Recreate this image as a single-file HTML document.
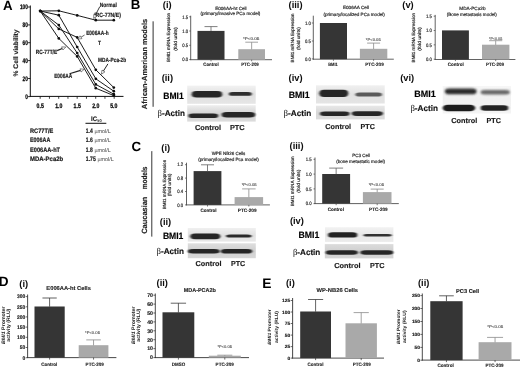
<!DOCTYPE html>
<html><head><meta charset="utf-8"><title>Figure</title>
<style>html,body{margin:0;padding:0;background:#fff}svg{display:block}text{text-rendering:geometricPrecision;font-family:'Liberation Sans', Arial, sans-serif}</style>
</head><body>
<svg width="520" height="368" viewBox="0 0 520 368">
<defs><filter id="b1" x="-10%" y="-50%" width="120%" height="200%"><feGaussianBlur stdDeviation="0.9 0.7"/></filter><filter id="b2" x="-10%" y="-50%" width="120%" height="200%"><feGaussianBlur stdDeviation="1.2 1.0"/></filter><filter id="soft"><feGaussianBlur stdDeviation="0.42"/></filter></defs>
<rect width="520" height="368" fill="#fff"/>
<g filter="url(#soft)">
<text x="2.90" y="10.10" font-size="13.3" font-weight="bold" textLength="9.60" lengthAdjust="spacingAndGlyphs" fill="#000">A</text>
<text x="130.70" y="8.90" font-size="13.3" font-weight="bold" textLength="9.60" lengthAdjust="spacingAndGlyphs" fill="#000">B</text>
<text x="131.50" y="150.90" font-size="13.3" font-weight="bold" textLength="9.60" lengthAdjust="spacingAndGlyphs" fill="#000">C</text>
<text x="-1.20" y="285.90" font-size="13.6" font-weight="bold" textLength="9.80" lengthAdjust="spacingAndGlyphs" fill="#000">D</text>
<text x="262.30" y="288.20" font-size="13.8" font-weight="bold" textLength="9.20" lengthAdjust="spacingAndGlyphs" fill="#000">E</text>
<line x1="30.30" y1="5.50" x2="30.30" y2="96.80" stroke="#111" stroke-width="1.0"/>
<line x1="29.90" y1="96.40" x2="123.50" y2="96.40" stroke="#111" stroke-width="1.0"/>
<line x1="28.10" y1="7.00" x2="30.30" y2="7.00" stroke="#111" stroke-width="0.9"/>
<text x="27.90" y="9.40" font-size="6.6" font-weight="bold" text-anchor="end" textLength="7.95" lengthAdjust="spacingAndGlyphs" stroke="#111" stroke-width="0.25">100</text>
<line x1="28.10" y1="24.90" x2="30.30" y2="24.90" stroke="#111" stroke-width="0.9"/>
<text x="27.90" y="27.30" font-size="6.6" font-weight="bold" text-anchor="end" textLength="5.30" lengthAdjust="spacingAndGlyphs" stroke="#111" stroke-width="0.25">80</text>
<line x1="28.10" y1="42.70" x2="30.30" y2="42.70" stroke="#111" stroke-width="0.9"/>
<text x="27.90" y="45.10" font-size="6.6" font-weight="bold" text-anchor="end" textLength="5.30" lengthAdjust="spacingAndGlyphs" stroke="#111" stroke-width="0.25">60</text>
<line x1="28.10" y1="60.60" x2="30.30" y2="60.60" stroke="#111" stroke-width="0.9"/>
<text x="27.90" y="63.00" font-size="6.6" font-weight="bold" text-anchor="end" textLength="5.30" lengthAdjust="spacingAndGlyphs" stroke="#111" stroke-width="0.25">40</text>
<line x1="28.10" y1="78.50" x2="30.30" y2="78.50" stroke="#111" stroke-width="0.9"/>
<text x="27.90" y="80.90" font-size="6.6" font-weight="bold" text-anchor="end" textLength="5.30" lengthAdjust="spacingAndGlyphs" stroke="#111" stroke-width="0.25">20</text>
<line x1="28.10" y1="96.60" x2="30.30" y2="96.60" stroke="#111" stroke-width="0.9"/>
<text x="27.90" y="99.00" font-size="6.6" font-weight="bold" text-anchor="end" textLength="2.65" lengthAdjust="spacingAndGlyphs" stroke="#111" stroke-width="0.25">0</text>
<line x1="40.20" y1="96.40" x2="40.20" y2="98.80" stroke="#111" stroke-width="0.8"/>
<line x1="49.45" y1="96.40" x2="49.45" y2="98.80" stroke="#111" stroke-width="0.8"/>
<line x1="58.70" y1="96.40" x2="58.70" y2="98.80" stroke="#111" stroke-width="0.8"/>
<line x1="67.95" y1="96.40" x2="67.95" y2="98.80" stroke="#111" stroke-width="0.8"/>
<line x1="77.20" y1="96.40" x2="77.20" y2="98.80" stroke="#111" stroke-width="0.8"/>
<line x1="86.45" y1="96.40" x2="86.45" y2="98.80" stroke="#111" stroke-width="0.8"/>
<line x1="95.70" y1="96.40" x2="95.70" y2="98.80" stroke="#111" stroke-width="0.8"/>
<line x1="104.95" y1="96.40" x2="104.95" y2="98.80" stroke="#111" stroke-width="0.8"/>
<line x1="114.20" y1="96.40" x2="114.20" y2="98.80" stroke="#111" stroke-width="0.8"/>
<text x="40.20" y="107.90" font-size="6.6" font-weight="bold" text-anchor="middle" textLength="7.20" lengthAdjust="spacingAndGlyphs" stroke="#111" stroke-width="0.25">0.5</text>
<text x="58.80" y="107.90" font-size="6.6" font-weight="bold" text-anchor="middle" textLength="7.20" lengthAdjust="spacingAndGlyphs" stroke="#111" stroke-width="0.25">1.0</text>
<text x="77.20" y="107.90" font-size="6.6" font-weight="bold" text-anchor="middle" textLength="7.20" lengthAdjust="spacingAndGlyphs" stroke="#111" stroke-width="0.25">1.5</text>
<text x="95.80" y="107.90" font-size="6.6" font-weight="bold" text-anchor="middle" textLength="7.20" lengthAdjust="spacingAndGlyphs" stroke="#111" stroke-width="0.25">2.0</text>
<text x="113.80" y="107.90" font-size="6.6" font-weight="bold" text-anchor="middle" textLength="7.20" lengthAdjust="spacingAndGlyphs" stroke="#111" stroke-width="0.25">5.0</text>
<text x="17.80" y="53.00" font-size="6.6" font-weight="bold" text-anchor="middle" textLength="47.00" lengthAdjust="spacingAndGlyphs" fill="#222" transform="rotate(-90 17.80 53.00)" stroke="#222" stroke-width="0.15">% Cell viability</text>
<polyline points="40.2,11.0 58.8,10.8 77.2,15.4 95.8,20.2 113.8,20.2" fill="none" stroke="#111" stroke-width="0.95"/>
<circle cx="40.2" cy="11.0" r="1.35" fill="#111"/>
<circle cx="58.8" cy="10.8" r="1.35" fill="#111"/>
<circle cx="77.2" cy="15.4" r="1.35" fill="#111"/>
<circle cx="95.8" cy="20.2" r="1.35" fill="#111"/>
<circle cx="113.8" cy="20.2" r="1.35" fill="#111"/>
<polyline points="40.2,11.0 58.8,28.9 77.2,37.4 95.8,69.8 113.8,87.6" fill="none" stroke="#111" stroke-width="0.95"/>
<circle cx="40.2" cy="11.0" r="1.35" fill="#111"/>
<circle cx="58.8" cy="28.9" r="1.35" fill="#111"/>
<circle cx="77.2" cy="37.4" r="1.35" fill="#111"/>
<circle cx="95.8" cy="69.8" r="1.35" fill="#111"/>
<circle cx="113.8" cy="87.6" r="1.35" fill="#111"/>
<polyline points="40.2,11.0 58.8,15.2 77.2,47.0 95.8,78.8 113.8,91.2" fill="none" stroke="#111" stroke-width="0.95"/>
<circle cx="40.2" cy="11.0" r="1.35" fill="#111"/>
<circle cx="58.8" cy="15.2" r="1.35" fill="#111"/>
<circle cx="77.2" cy="47.0" r="1.35" fill="#111"/>
<circle cx="95.8" cy="78.8" r="1.35" fill="#111"/>
<circle cx="113.8" cy="91.2" r="1.35" fill="#111"/>
<polyline points="40.2,11.0 58.8,25.1 77.2,53.0 95.8,84.4 113.8,94.2" fill="none" stroke="#111" stroke-width="0.95"/>
<circle cx="40.2" cy="11.0" r="1.35" fill="#111"/>
<circle cx="58.8" cy="25.1" r="1.35" fill="#111"/>
<circle cx="77.2" cy="53.0" r="1.35" fill="#111"/>
<circle cx="95.8" cy="84.4" r="1.35" fill="#111"/>
<circle cx="113.8" cy="94.2" r="1.35" fill="#111"/>
<polyline points="40.2,11.0 58.8,38.4 77.2,56.4 95.8,88.2 113.8,95.6" fill="none" stroke="#111" stroke-width="0.95"/>
<circle cx="40.2" cy="11.0" r="1.35" fill="#111"/>
<circle cx="58.8" cy="38.4" r="1.35" fill="#111"/>
<circle cx="77.2" cy="56.4" r="1.35" fill="#111"/>
<circle cx="95.8" cy="88.2" r="1.35" fill="#111"/>
<circle cx="113.8" cy="95.6" r="1.35" fill="#111"/>
<text x="99.80" y="6.90" font-size="6.2" font-weight="bold" textLength="17.00" lengthAdjust="spacingAndGlyphs" fill="#222" stroke="#222" stroke-width="0.2">Normal</text>
<text x="93.90" y="17.20" font-size="6.2" font-weight="bold" textLength="27.00" lengthAdjust="spacingAndGlyphs" fill="#222" stroke="#222" stroke-width="0.2">(RC-77N/E)</text>
<text x="86.20" y="34.60" font-size="6.2" font-weight="bold" textLength="22.50" lengthAdjust="spacingAndGlyphs" fill="#222" stroke="#222" stroke-width="0.2">E006AA-h</text>
<text x="98.00" y="44.60" font-size="6.2" font-weight="bold" textLength="3.00" lengthAdjust="spacingAndGlyphs" fill="#222" stroke="#222" stroke-width="0.2">T</text>
<text x="35.80" y="53.60" font-size="6.2" font-weight="bold" textLength="21.30" lengthAdjust="spacingAndGlyphs" fill="#222" stroke="#222" stroke-width="0.2">RC-77T/E</text>
<text x="98.10" y="62.30" font-size="6.2" font-weight="bold" textLength="28.10" lengthAdjust="spacingAndGlyphs" fill="#222" stroke="#222" stroke-width="0.2">MDA-Pca-2b</text>
<text x="54.20" y="78.10" font-size="6.2" font-weight="bold" textLength="18.00" lengthAdjust="spacingAndGlyphs" fill="#222" stroke="#222" stroke-width="0.2">E006AA</text>
<line x1="99.80" y1="6.60" x2="95.36" y2="15.13" stroke="#222" stroke-width="0.9"/>
<polygon points="93.6,18.5 93.8,14.3 96.9,15.9" fill="#fff" stroke="#222" stroke-width="0.55"/>
<line x1="84.60" y1="35.00" x2="81.03" y2="37.20" stroke="#222" stroke-width="0.7"/>
<polygon points="77.8,39.2 80.1,35.8 81.9,38.6" fill="#fff" stroke="#222" stroke-width="0.55"/>
<line x1="57.10" y1="50.60" x2="62.29" y2="48.45" stroke="#222" stroke-width="1.2"/>
<polygon points="65.8,47.0 62.9,50.0 61.6,46.9" fill="#fff" stroke="#222" stroke-width="0.55"/>
<line x1="107.90" y1="63.90" x2="103.43" y2="70.99" stroke="#222" stroke-width="1.0"/>
<polygon points="101.4,74.2 102.0,70.1 104.9,71.9" fill="#fff" stroke="#222" stroke-width="0.55"/>
<line x1="69.50" y1="73.80" x2="80.57" y2="70.41" stroke="#222" stroke-width="1.2"/>
<polygon points="84.2,69.3 81.1,72.0 80.1,68.8" fill="#fff" stroke="#222" stroke-width="0.55"/>
<text x="91.00" y="120.50" font-size="6.4" font-weight="bold" textLength="6.00" lengthAdjust="spacingAndGlyphs" fill="#222" stroke="#222" stroke-width="0.2">IC</text>
<text x="97.30" y="122.20" font-size="4.2" font-weight="bold" textLength="4.40" lengthAdjust="spacingAndGlyphs" fill="#222">50</text>
<line x1="85.50" y1="123.30" x2="106.30" y2="123.30" stroke="#111" stroke-width="1.0"/>
<text x="30.00" y="133.10" font-size="6.4" font-weight="bold" textLength="23.30" lengthAdjust="spacingAndGlyphs" fill="#222" stroke="#222" stroke-width="0.2">RC77T/E</text>
<text x="85.80" y="133.10" font-size="6.4" font-weight="bold" textLength="7.00" lengthAdjust="spacingAndGlyphs" fill="#222" stroke="#222" stroke-width="0.2">1.4</text>
<text x="94.40" y="133.00" font-size="5.4" textLength="16.50" lengthAdjust="spacingAndGlyphs" fill="#444">µmol/L</text>
<text x="30.00" y="142.30" font-size="6.4" font-weight="bold" textLength="20.30" lengthAdjust="spacingAndGlyphs" fill="#222" stroke="#222" stroke-width="0.2">E006AA</text>
<text x="85.80" y="142.30" font-size="6.4" font-weight="bold" textLength="7.00" lengthAdjust="spacingAndGlyphs" fill="#222" stroke="#222" stroke-width="0.2">1.6</text>
<text x="94.40" y="142.20" font-size="5.4" textLength="16.50" lengthAdjust="spacingAndGlyphs" fill="#444">µmol/L</text>
<text x="30.00" y="151.60" font-size="6.4" font-weight="bold" textLength="30.00" lengthAdjust="spacingAndGlyphs" fill="#222" stroke="#222" stroke-width="0.2">E006AA-hT</text>
<text x="85.80" y="151.60" font-size="6.4" font-weight="bold" textLength="7.00" lengthAdjust="spacingAndGlyphs" fill="#222" stroke="#222" stroke-width="0.2">1.8</text>
<text x="94.40" y="151.50" font-size="5.4" textLength="16.50" lengthAdjust="spacingAndGlyphs" fill="#444">µmol/L</text>
<text x="30.00" y="160.60" font-size="6.4" font-weight="bold" textLength="33.20" lengthAdjust="spacingAndGlyphs" fill="#222" stroke="#222" stroke-width="0.2">MDA-Pca2b</text>
<text x="85.80" y="160.60" font-size="6.4" font-weight="bold" textLength="10.00" lengthAdjust="spacingAndGlyphs" fill="#222" stroke="#222" stroke-width="0.2">1.75</text>
<text x="97.40" y="160.50" font-size="5.4" textLength="16.50" lengthAdjust="spacingAndGlyphs" fill="#444">µmol/L</text>
<line x1="153.10" y1="21.30" x2="153.10" y2="106.80" stroke="#1a1a1a" stroke-width="0.9"/>
<text x="147.00" y="64.00" font-size="7.4" font-weight="bold" text-anchor="middle" textLength="90.40" lengthAdjust="spacingAndGlyphs" fill="#222" transform="rotate(-90 147.00 64.00)" stroke="#222" stroke-width="0.15">African-American models</text>
<line x1="151.80" y1="151.20" x2="151.80" y2="236.60" stroke="#1a1a1a" stroke-width="0.9"/>
<text x="147.10" y="215.20" font-size="7.6" font-weight="bold" text-anchor="middle" textLength="37.20" lengthAdjust="spacingAndGlyphs" fill="#222" transform="rotate(-90 147.10 215.20)" stroke="#222" stroke-width="0.15">Caucasian</text>
<text x="147.10" y="178.00" font-size="7.6" font-weight="bold" text-anchor="middle" textLength="22.60" lengthAdjust="spacingAndGlyphs" fill="#222" transform="rotate(-90 147.10 178.00)" stroke="#222" stroke-width="0.15">models</text>
<text x="162.80" y="8.40" font-size="9.3" font-weight="bold" textLength="8.78" lengthAdjust="spacingAndGlyphs" fill="#0a0a0a">(i)</text>
<text x="161.70" y="81.20" font-size="9.3" font-weight="bold" textLength="11.36" lengthAdjust="spacingAndGlyphs" fill="#0a0a0a">(ii)</text>
<text x="288.60" y="8.10" font-size="9.3" font-weight="bold" textLength="13.95" lengthAdjust="spacingAndGlyphs" fill="#0a0a0a">(iii)</text>
<text x="288.60" y="81.00" font-size="9.3" font-weight="bold" textLength="13.95" lengthAdjust="spacingAndGlyphs" fill="#0a0a0a">(iv)</text>
<text x="402.30" y="8.00" font-size="9.3" font-weight="bold" textLength="11.36" lengthAdjust="spacingAndGlyphs" fill="#0a0a0a">(v)</text>
<text x="400.20" y="81.10" font-size="9.3" font-weight="bold" textLength="13.95" lengthAdjust="spacingAndGlyphs" fill="#0a0a0a">(vi)</text>
<text x="161.30" y="150.50" font-size="9.3" font-weight="bold" textLength="8.78" lengthAdjust="spacingAndGlyphs" fill="#0a0a0a">(i)</text>
<text x="159.80" y="225.00" font-size="9.3" font-weight="bold" textLength="11.36" lengthAdjust="spacingAndGlyphs" fill="#0a0a0a">(ii)</text>
<text x="289.60" y="149.30" font-size="9.3" font-weight="bold" textLength="13.95" lengthAdjust="spacingAndGlyphs" fill="#0a0a0a">(iii)</text>
<text x="289.90" y="223.50" font-size="9.3" font-weight="bold" textLength="13.95" lengthAdjust="spacingAndGlyphs" fill="#0a0a0a">(iv)</text>
<text x="19.30" y="286.50" font-size="9.3" font-weight="bold" textLength="8.78" lengthAdjust="spacingAndGlyphs" fill="#0a0a0a">(i)</text>
<text x="156.60" y="286.30" font-size="9.3" font-weight="bold" textLength="11.36" lengthAdjust="spacingAndGlyphs" fill="#0a0a0a">(ii)</text>
<text x="286.00" y="286.30" font-size="9.3" font-weight="bold" textLength="8.78" lengthAdjust="spacingAndGlyphs" fill="#0a0a0a">(i)</text>
<text x="418.00" y="286.30" font-size="9.3" font-weight="bold" textLength="11.36" lengthAdjust="spacingAndGlyphs" fill="#0a0a0a">(ii)</text>
<line x1="190.70" y1="15.70" x2="190.70" y2="60.10" stroke="#444" stroke-width="0.85"/>
<line x1="190.30" y1="59.70" x2="272.00" y2="59.70" stroke="#444" stroke-width="0.85"/>
<line x1="189.20" y1="16.80" x2="190.70" y2="16.80" stroke="#444" stroke-width="0.7"/>
<text x="188.20" y="18.56" font-size="4.9" text-anchor="end" textLength="5.90" lengthAdjust="spacingAndGlyphs" fill="#222" stroke="#2a2a2a" stroke-width="0.18">1.5</text>
<line x1="189.20" y1="31.00" x2="190.70" y2="31.00" stroke="#444" stroke-width="0.7"/>
<text x="188.20" y="32.76" font-size="4.9" text-anchor="end" textLength="5.90" lengthAdjust="spacingAndGlyphs" fill="#222" stroke="#2a2a2a" stroke-width="0.18">1.0</text>
<line x1="189.20" y1="45.30" x2="190.70" y2="45.30" stroke="#444" stroke-width="0.7"/>
<text x="188.20" y="47.06" font-size="4.9" text-anchor="end" textLength="5.90" lengthAdjust="spacingAndGlyphs" fill="#222" stroke="#2a2a2a" stroke-width="0.18">0.5</text>
<line x1="189.20" y1="59.60" x2="190.70" y2="59.60" stroke="#444" stroke-width="0.7"/>
<text x="188.20" y="61.36" font-size="4.9" text-anchor="end" textLength="5.90" lengthAdjust="spacingAndGlyphs" fill="#222" stroke="#2a2a2a" stroke-width="0.18">0.0</text>
<rect x="197.50" y="30.90" width="27.00" height="28.80" fill="#353535"/>
<line x1="211.00" y1="59.70" x2="211.00" y2="61.30" stroke="#444" stroke-width="0.7"/>
<line x1="211.00" y1="26.60" x2="211.00" y2="31.10" stroke="#606060" stroke-width="0.8"/>
<line x1="204.50" y1="26.60" x2="217.50" y2="26.60" stroke="#606060" stroke-width="0.8"/>
<rect x="238.30" y="49.20" width="26.70" height="10.50" fill="#a9a9a9"/>
<line x1="251.65" y1="59.70" x2="251.65" y2="61.30" stroke="#444" stroke-width="0.7"/>
<line x1="251.65" y1="42.20" x2="251.65" y2="49.40" stroke="#8a8a8a" stroke-width="0.8"/>
<line x1="245.30" y1="42.20" x2="258.00" y2="42.20" stroke="#8a8a8a" stroke-width="0.8"/>
<text x="211.00" y="65.90" font-size="4.8" font-weight="bold" text-anchor="middle" textLength="15.50" lengthAdjust="spacingAndGlyphs" fill="#1a1a1a" stroke="#1a1a1a" stroke-width="0.1">Control</text>
<text x="250.00" y="65.90" font-size="4.8" font-weight="bold" text-anchor="middle" textLength="17.70" lengthAdjust="spacingAndGlyphs" fill="#1a1a1a" stroke="#1a1a1a" stroke-width="0.1">PTC-209</text>
<text x="230.90" y="9.70" font-size="4.6" text-anchor="middle" textLength="31.50" lengthAdjust="spacingAndGlyphs" fill="#262626" stroke="#2a2a2a" stroke-width="0.18">E006AA-ht Cell</text>
<text x="230.40" y="15.10" font-size="4.6" text-anchor="middle" textLength="60.00" lengthAdjust="spacingAndGlyphs" fill="#262626" stroke="#2a2a2a" stroke-width="0.18">(primary/invasive PCa model)</text>
<text x="170.10" y="37.50" font-size="4.5" text-anchor="middle" fill="#262626" transform="rotate(-90 170.10 37.50)" textLength="49.00" lengthAdjust="spacingAndGlyphs" stroke="#2a2a2a" stroke-width="0.18">BMI1 mRNA Expression</text>
<text x="176.60" y="39.00" font-size="4.5" text-anchor="middle" fill="#262626" transform="rotate(-90 176.60 39.00)" textLength="23.50" lengthAdjust="spacingAndGlyphs" stroke="#2a2a2a" stroke-width="0.18">(fold units)</text>
<text x="251.20" y="39.60" font-size="3.9" text-anchor="middle" textLength="16.40" lengthAdjust="spacingAndGlyphs" fill="#383838" stroke="#383838" stroke-width="0.08">*P&lt;0.05</text>
<line x1="313.30" y1="15.70" x2="313.30" y2="59.60" stroke="#444" stroke-width="0.85"/>
<line x1="312.90" y1="59.20" x2="393.80" y2="59.20" stroke="#444" stroke-width="0.85"/>
<line x1="311.80" y1="23.00" x2="313.30" y2="23.00" stroke="#444" stroke-width="0.7"/>
<text x="310.80" y="24.76" font-size="4.9" text-anchor="end" textLength="5.90" lengthAdjust="spacingAndGlyphs" fill="#222" stroke="#2a2a2a" stroke-width="0.18">1.0</text>
<line x1="311.80" y1="41.00" x2="313.30" y2="41.00" stroke="#444" stroke-width="0.7"/>
<text x="310.80" y="42.76" font-size="4.9" text-anchor="end" textLength="5.90" lengthAdjust="spacingAndGlyphs" fill="#222" stroke="#2a2a2a" stroke-width="0.18">0.5</text>
<line x1="311.80" y1="58.90" x2="313.30" y2="58.90" stroke="#444" stroke-width="0.7"/>
<text x="310.80" y="60.66" font-size="4.9" text-anchor="end" textLength="5.90" lengthAdjust="spacingAndGlyphs" fill="#222" stroke="#2a2a2a" stroke-width="0.18">0.0</text>
<rect x="319.90" y="23.00" width="27.10" height="36.20" fill="#353535"/>
<line x1="333.45" y1="59.20" x2="333.45" y2="60.80" stroke="#444" stroke-width="0.7"/>
<rect x="359.90" y="48.80" width="27.40" height="10.40" fill="#a9a9a9"/>
<line x1="373.60" y1="59.20" x2="373.60" y2="60.80" stroke="#444" stroke-width="0.7"/>
<line x1="373.60" y1="43.10" x2="373.60" y2="49.00" stroke="#8a8a8a" stroke-width="0.8"/>
<line x1="367.10" y1="43.10" x2="380.10" y2="43.10" stroke="#8a8a8a" stroke-width="0.8"/>
<text x="333.00" y="65.80" font-size="4.8" font-weight="bold" text-anchor="middle" textLength="9.60" lengthAdjust="spacingAndGlyphs" fill="#1a1a1a" stroke="#1a1a1a" stroke-width="0.1">BMI1</text>
<text x="374.50" y="65.80" font-size="4.8" font-weight="bold" text-anchor="middle" textLength="18.40" lengthAdjust="spacingAndGlyphs" fill="#1a1a1a" stroke="#1a1a1a" stroke-width="0.1">PTC-209</text>
<text x="355.90" y="9.40" font-size="4.6" text-anchor="middle" textLength="26.00" lengthAdjust="spacingAndGlyphs" fill="#262626" stroke="#2a2a2a" stroke-width="0.18">E006AA Cell</text>
<text x="354.10" y="15.60" font-size="4.6" text-anchor="middle" textLength="61.40" lengthAdjust="spacingAndGlyphs" fill="#262626" stroke="#2a2a2a" stroke-width="0.18">(primary/localized PCa model)</text>
<text x="293.90" y="37.90" font-size="4.5" text-anchor="middle" fill="#262626" transform="rotate(-90 293.90 37.90)" textLength="49.00" lengthAdjust="spacingAndGlyphs" stroke="#2a2a2a" stroke-width="0.18">BMI1 mRNA Expression</text>
<text x="300.10" y="38.60" font-size="4.5" text-anchor="middle" fill="#262626" transform="rotate(-90 300.10 38.60)" textLength="23.00" lengthAdjust="spacingAndGlyphs" stroke="#2a2a2a" stroke-width="0.18">(fold units)</text>
<text x="373.30" y="40.90" font-size="3.9" text-anchor="middle" textLength="14.90" lengthAdjust="spacingAndGlyphs" fill="#383838" stroke="#383838" stroke-width="0.08">*P&lt;0.05</text>
<line x1="435.20" y1="14.90" x2="435.20" y2="59.90" stroke="#444" stroke-width="0.85"/>
<line x1="434.80" y1="59.50" x2="515.40" y2="59.50" stroke="#444" stroke-width="0.85"/>
<line x1="433.70" y1="16.20" x2="435.20" y2="16.20" stroke="#444" stroke-width="0.7"/>
<text x="431.90" y="17.96" font-size="4.9" text-anchor="end" textLength="5.90" lengthAdjust="spacingAndGlyphs" fill="#222" stroke="#2a2a2a" stroke-width="0.18">1.5</text>
<line x1="433.70" y1="30.50" x2="435.20" y2="30.50" stroke="#444" stroke-width="0.7"/>
<text x="431.90" y="32.26" font-size="4.9" text-anchor="end" textLength="5.90" lengthAdjust="spacingAndGlyphs" fill="#222" stroke="#2a2a2a" stroke-width="0.18">1.0</text>
<line x1="433.70" y1="44.85" x2="435.20" y2="44.85" stroke="#444" stroke-width="0.7"/>
<text x="431.90" y="46.61" font-size="4.9" text-anchor="end" textLength="5.90" lengthAdjust="spacingAndGlyphs" fill="#222" stroke="#2a2a2a" stroke-width="0.18">0.5</text>
<line x1="433.70" y1="59.20" x2="435.20" y2="59.20" stroke="#444" stroke-width="0.7"/>
<text x="431.90" y="60.96" font-size="4.9" text-anchor="end" textLength="5.90" lengthAdjust="spacingAndGlyphs" fill="#222" stroke="#2a2a2a" stroke-width="0.18">0.0</text>
<rect x="442.00" y="30.40" width="26.90" height="29.10" fill="#353535"/>
<line x1="455.45" y1="59.50" x2="455.45" y2="61.10" stroke="#444" stroke-width="0.7"/>
<rect x="482.00" y="44.70" width="27.40" height="14.80" fill="#a9a9a9"/>
<line x1="495.70" y1="59.50" x2="495.70" y2="61.10" stroke="#444" stroke-width="0.7"/>
<line x1="495.70" y1="40.70" x2="495.70" y2="44.90" stroke="#8a8a8a" stroke-width="0.8"/>
<line x1="489.15" y1="40.70" x2="502.25" y2="40.70" stroke="#8a8a8a" stroke-width="0.8"/>
<text x="455.70" y="66.30" font-size="4.8" font-weight="bold" text-anchor="middle" textLength="16.00" lengthAdjust="spacingAndGlyphs" fill="#1a1a1a" stroke="#1a1a1a" stroke-width="0.1">Control</text>
<text x="495.00" y="66.30" font-size="4.8" font-weight="bold" text-anchor="middle" textLength="18.00" lengthAdjust="spacingAndGlyphs" fill="#1a1a1a" stroke="#1a1a1a" stroke-width="0.1">PTC-209</text>
<text x="472.40" y="9.70" font-size="4.6" text-anchor="middle" textLength="26.30" lengthAdjust="spacingAndGlyphs" fill="#262626" stroke="#2a2a2a" stroke-width="0.18">MDA-PCa2b</text>
<text x="471.70" y="15.90" font-size="4.6" text-anchor="middle" textLength="50.00" lengthAdjust="spacingAndGlyphs" fill="#262626" stroke="#2a2a2a" stroke-width="0.18">(Bone metastasis model)</text>
<text x="415.50" y="37.70" font-size="4.5" text-anchor="middle" fill="#262626" transform="rotate(-90 415.50 37.70)" textLength="49.50" lengthAdjust="spacingAndGlyphs" stroke="#2a2a2a" stroke-width="0.18">BMI1 mRNA Expression</text>
<text x="421.30" y="39.00" font-size="4.5" text-anchor="middle" fill="#262626" transform="rotate(-90 421.30 39.00)" textLength="23.50" lengthAdjust="spacingAndGlyphs" stroke="#2a2a2a" stroke-width="0.18">(fold units)</text>
<text x="495.60" y="39.50" font-size="3.9" text-anchor="middle" textLength="13.20" lengthAdjust="spacingAndGlyphs" fill="#383838" stroke="#383838" stroke-width="0.08">*P&lt;0.05</text>
<line x1="186.50" y1="162.70" x2="186.50" y2="205.30" stroke="#444" stroke-width="0.85"/>
<line x1="186.10" y1="204.90" x2="269.90" y2="204.90" stroke="#444" stroke-width="0.85"/>
<line x1="185.00" y1="164.70" x2="186.50" y2="164.70" stroke="#444" stroke-width="0.7"/>
<text x="183.10" y="166.46" font-size="4.9" text-anchor="end" textLength="5.90" lengthAdjust="spacingAndGlyphs" fill="#222" stroke="#2a2a2a" stroke-width="0.18">1.2</text>
<line x1="185.00" y1="178.10" x2="186.50" y2="178.10" stroke="#444" stroke-width="0.7"/>
<text x="183.10" y="179.86" font-size="4.9" text-anchor="end" textLength="5.90" lengthAdjust="spacingAndGlyphs" fill="#222" stroke="#2a2a2a" stroke-width="0.18">0.8</text>
<line x1="185.00" y1="191.50" x2="186.50" y2="191.50" stroke="#444" stroke-width="0.7"/>
<text x="183.10" y="193.26" font-size="4.9" text-anchor="end" textLength="5.90" lengthAdjust="spacingAndGlyphs" fill="#222" stroke="#2a2a2a" stroke-width="0.18">0.4</text>
<line x1="185.00" y1="204.90" x2="186.50" y2="204.90" stroke="#444" stroke-width="0.7"/>
<text x="183.10" y="206.66" font-size="4.9" text-anchor="end" textLength="5.90" lengthAdjust="spacingAndGlyphs" fill="#222" stroke="#2a2a2a" stroke-width="0.18">0.0</text>
<rect x="193.60" y="171.10" width="27.80" height="33.80" fill="#353535"/>
<line x1="207.50" y1="204.90" x2="207.50" y2="206.50" stroke="#444" stroke-width="0.7"/>
<line x1="207.50" y1="164.80" x2="207.50" y2="171.30" stroke="#606060" stroke-width="0.8"/>
<line x1="201.00" y1="164.80" x2="214.00" y2="164.80" stroke="#606060" stroke-width="0.8"/>
<rect x="234.60" y="197.10" width="28.50" height="7.80" fill="#a9a9a9"/>
<line x1="248.85" y1="204.90" x2="248.85" y2="206.50" stroke="#444" stroke-width="0.7"/>
<line x1="248.85" y1="188.90" x2="248.85" y2="197.30" stroke="#8a8a8a" stroke-width="0.8"/>
<line x1="242.10" y1="188.90" x2="255.60" y2="188.90" stroke="#8a8a8a" stroke-width="0.8"/>
<text x="208.50" y="211.50" font-size="4.8" font-weight="bold" text-anchor="middle" textLength="16.00" lengthAdjust="spacingAndGlyphs" fill="#1a1a1a" stroke="#1a1a1a" stroke-width="0.1">Control</text>
<text x="247.20" y="211.50" font-size="4.8" font-weight="bold" text-anchor="middle" textLength="18.80" lengthAdjust="spacingAndGlyphs" fill="#1a1a1a" stroke="#1a1a1a" stroke-width="0.1">PTC-209</text>
<text x="228.50" y="154.90" font-size="4.6" text-anchor="middle" textLength="33.70" lengthAdjust="spacingAndGlyphs" fill="#262626" stroke="#2a2a2a" stroke-width="0.18">WPE NB26 Cells</text>
<text x="228.50" y="161.30" font-size="4.6" text-anchor="middle" textLength="60.50" lengthAdjust="spacingAndGlyphs" fill="#262626" stroke="#2a2a2a" stroke-width="0.18">(primary/localized Pca model)</text>
<text x="165.60" y="184.50" font-size="4.5" text-anchor="middle" fill="#262626" transform="rotate(-90 165.60 184.50)" textLength="49.50" lengthAdjust="spacingAndGlyphs" stroke="#2a2a2a" stroke-width="0.18">BMI1 mRNA Expression</text>
<text x="171.10" y="184.90" font-size="4.5" text-anchor="middle" fill="#262626" transform="rotate(-90 171.10 184.90)" textLength="22.80" lengthAdjust="spacingAndGlyphs" stroke="#2a2a2a" stroke-width="0.18">(fold units)</text>
<text x="249.20" y="185.90" font-size="3.9" text-anchor="middle" textLength="15.00" lengthAdjust="spacingAndGlyphs" fill="#383838" stroke="#383838" stroke-width="0.08">*P&lt;0.05</text>
<line x1="315.00" y1="157.50" x2="315.00" y2="204.00" stroke="#444" stroke-width="0.85"/>
<line x1="314.60" y1="203.60" x2="398.80" y2="203.60" stroke="#444" stroke-width="0.85"/>
<line x1="313.50" y1="159.30" x2="315.00" y2="159.30" stroke="#444" stroke-width="0.7"/>
<text x="311.60" y="161.06" font-size="4.9" text-anchor="end" textLength="5.90" lengthAdjust="spacingAndGlyphs" fill="#222" stroke="#2a2a2a" stroke-width="0.18">1.5</text>
<line x1="313.50" y1="174.10" x2="315.00" y2="174.10" stroke="#444" stroke-width="0.7"/>
<text x="311.60" y="175.86" font-size="4.9" text-anchor="end" textLength="5.90" lengthAdjust="spacingAndGlyphs" fill="#222" stroke="#2a2a2a" stroke-width="0.18">1.0</text>
<line x1="313.50" y1="188.90" x2="315.00" y2="188.90" stroke="#444" stroke-width="0.7"/>
<text x="311.60" y="190.66" font-size="4.9" text-anchor="end" textLength="5.90" lengthAdjust="spacingAndGlyphs" fill="#222" stroke="#2a2a2a" stroke-width="0.18">0.5</text>
<line x1="313.50" y1="203.60" x2="315.00" y2="203.60" stroke="#444" stroke-width="0.7"/>
<text x="311.60" y="205.36" font-size="4.9" text-anchor="end" textLength="5.90" lengthAdjust="spacingAndGlyphs" fill="#222" stroke="#2a2a2a" stroke-width="0.18">0.0</text>
<rect x="322.20" y="174.00" width="27.90" height="29.60" fill="#353535"/>
<line x1="336.15" y1="203.60" x2="336.15" y2="205.20" stroke="#444" stroke-width="0.7"/>
<line x1="336.15" y1="168.10" x2="336.15" y2="174.20" stroke="#606060" stroke-width="0.8"/>
<line x1="329.20" y1="168.10" x2="343.10" y2="168.10" stroke="#606060" stroke-width="0.8"/>
<rect x="362.90" y="192.10" width="28.60" height="11.50" fill="#a9a9a9"/>
<line x1="377.20" y1="203.60" x2="377.20" y2="205.20" stroke="#444" stroke-width="0.7"/>
<line x1="377.20" y1="189.10" x2="377.20" y2="192.30" stroke="#8a8a8a" stroke-width="0.8"/>
<line x1="370.70" y1="189.10" x2="383.70" y2="189.10" stroke="#8a8a8a" stroke-width="0.8"/>
<text x="335.80" y="210.80" font-size="4.8" font-weight="bold" text-anchor="middle" textLength="16.30" lengthAdjust="spacingAndGlyphs" fill="#1a1a1a" stroke="#1a1a1a" stroke-width="0.1">Control</text>
<text x="378.40" y="210.80" font-size="4.8" font-weight="bold" text-anchor="middle" textLength="18.60" lengthAdjust="spacingAndGlyphs" fill="#1a1a1a" stroke="#1a1a1a" stroke-width="0.1">PTC-209</text>
<text x="361.10" y="157.20" font-size="4.6" text-anchor="middle" textLength="17.50" lengthAdjust="spacingAndGlyphs" fill="#262626" stroke="#2a2a2a" stroke-width="0.18">PC3 Cell</text>
<text x="360.60" y="162.90" font-size="4.6" text-anchor="middle" textLength="48.80" lengthAdjust="spacingAndGlyphs" fill="#262626" stroke="#2a2a2a" stroke-width="0.18">(bone metastatic model)</text>
<text x="293.60" y="181.30" font-size="4.5" text-anchor="middle" fill="#262626" transform="rotate(-90 293.60 181.30)" textLength="50.00" lengthAdjust="spacingAndGlyphs" stroke="#2a2a2a" stroke-width="0.18">BMI1 mRNA Expression</text>
<text x="300.10" y="181.20" font-size="4.5" text-anchor="middle" fill="#262626" transform="rotate(-90 300.10 181.20)" textLength="23.00" lengthAdjust="spacingAndGlyphs" stroke="#2a2a2a" stroke-width="0.18">(fold units)</text>
<text x="376.40" y="186.30" font-size="3.9" text-anchor="middle" textLength="15.50" lengthAdjust="spacingAndGlyphs" fill="#383838" stroke="#383838" stroke-width="0.08">*P&lt;0.05</text>
<line x1="27.60" y1="294.50" x2="27.60" y2="358.00" stroke="#2a2a2a" stroke-width="0.85"/>
<line x1="27.20" y1="357.60" x2="116.40" y2="357.60" stroke="#2a2a2a" stroke-width="0.85"/>
<line x1="25.70" y1="296.60" x2="27.60" y2="296.60" stroke="#2a2a2a" stroke-width="0.7"/>
<text x="25.20" y="298.47" font-size="5.2" font-weight="bold" text-anchor="end" textLength="8.27" lengthAdjust="spacingAndGlyphs" fill="#1a1a1a" stroke="#1a1a1a" stroke-width="0.15">300</text>
<line x1="25.70" y1="306.80" x2="27.60" y2="306.80" stroke="#2a2a2a" stroke-width="0.7"/>
<text x="25.20" y="308.67" font-size="5.2" font-weight="bold" text-anchor="end" textLength="8.27" lengthAdjust="spacingAndGlyphs" fill="#1a1a1a" stroke="#1a1a1a" stroke-width="0.15">250</text>
<line x1="25.70" y1="316.90" x2="27.60" y2="316.90" stroke="#2a2a2a" stroke-width="0.7"/>
<text x="25.20" y="318.77" font-size="5.2" font-weight="bold" text-anchor="end" textLength="8.27" lengthAdjust="spacingAndGlyphs" fill="#1a1a1a" stroke="#1a1a1a" stroke-width="0.15">200</text>
<line x1="25.70" y1="327.10" x2="27.60" y2="327.10" stroke="#2a2a2a" stroke-width="0.7"/>
<text x="25.20" y="328.97" font-size="5.2" font-weight="bold" text-anchor="end" textLength="8.27" lengthAdjust="spacingAndGlyphs" fill="#1a1a1a" stroke="#1a1a1a" stroke-width="0.15">150</text>
<line x1="25.70" y1="337.30" x2="27.60" y2="337.30" stroke="#2a2a2a" stroke-width="0.7"/>
<text x="25.20" y="339.17" font-size="5.2" font-weight="bold" text-anchor="end" textLength="8.27" lengthAdjust="spacingAndGlyphs" fill="#1a1a1a" stroke="#1a1a1a" stroke-width="0.15">100</text>
<line x1="25.70" y1="347.50" x2="27.60" y2="347.50" stroke="#2a2a2a" stroke-width="0.7"/>
<text x="25.20" y="349.37" font-size="5.2" font-weight="bold" text-anchor="end" textLength="5.51" lengthAdjust="spacingAndGlyphs" fill="#1a1a1a" stroke="#1a1a1a" stroke-width="0.15">50</text>
<line x1="25.70" y1="357.70" x2="27.60" y2="357.70" stroke="#2a2a2a" stroke-width="0.7"/>
<text x="25.20" y="359.57" font-size="5.2" font-weight="bold" text-anchor="end" textLength="2.76" lengthAdjust="spacingAndGlyphs" fill="#1a1a1a" stroke="#1a1a1a" stroke-width="0.15">0</text>
<rect x="34.50" y="306.50" width="30.20" height="51.10" fill="#353535"/>
<line x1="49.60" y1="357.60" x2="49.60" y2="359.60" stroke="#2a2a2a" stroke-width="0.7"/>
<line x1="49.60" y1="298.00" x2="49.60" y2="306.70" stroke="#3a3a3a" stroke-width="0.8"/>
<line x1="42.45" y1="298.00" x2="56.75" y2="298.00" stroke="#3a3a3a" stroke-width="0.8"/>
<rect x="78.70" y="345.20" width="29.70" height="12.40" fill="#a9a9a9"/>
<line x1="93.55" y1="357.60" x2="93.55" y2="359.60" stroke="#2a2a2a" stroke-width="0.7"/>
<line x1="93.55" y1="339.90" x2="93.55" y2="345.40" stroke="#8a8a8a" stroke-width="0.8"/>
<line x1="86.25" y1="339.90" x2="100.85" y2="339.90" stroke="#8a8a8a" stroke-width="0.8"/>
<text x="49.30" y="365.80" font-size="4.8" font-weight="bold" text-anchor="middle" textLength="16.20" lengthAdjust="spacingAndGlyphs" fill="#1a1a1a" stroke="#1a1a1a" stroke-width="0.1">Control</text>
<text x="94.70" y="365.80" font-size="4.8" font-weight="bold" text-anchor="middle" textLength="18.20" lengthAdjust="spacingAndGlyphs" fill="#1a1a1a" stroke="#1a1a1a" stroke-width="0.1">PTC-209</text>
<text x="68.60" y="290.30" font-size="5.6" font-weight="bold" text-anchor="middle" textLength="44.50" lengthAdjust="spacingAndGlyphs" fill="#1a1a1a" stroke="#1a1a1a" stroke-width="0.12">E006AA-ht Cells</text>
<text x="4.60" y="325.20" font-size="5" text-anchor="middle" fill="#222" transform="rotate(-90 4.60 325.20)" textLength="37.50" lengthAdjust="spacingAndGlyphs" font-weight="bold"><tspan font-style="italic">BMI1</tspan> Promoter</text>
<text x="10.20" y="325.20" font-size="5" text-anchor="middle" fill="#222" transform="rotate(-90 10.20 325.20)" textLength="33.00" lengthAdjust="spacingAndGlyphs" font-weight="bold">activity (RLU)</text>
<text x="92.50" y="334.30" font-size="3.9" text-anchor="middle" textLength="15.00" lengthAdjust="spacingAndGlyphs" fill="#383838" stroke="#383838" stroke-width="0.08">*P&lt;0.05</text>
<line x1="155.30" y1="293.50" x2="155.30" y2="358.00" stroke="#2a2a2a" stroke-width="0.85"/>
<line x1="154.90" y1="357.60" x2="249.00" y2="357.60" stroke="#2a2a2a" stroke-width="0.85"/>
<line x1="153.40" y1="295.20" x2="155.30" y2="295.20" stroke="#2a2a2a" stroke-width="0.7"/>
<text x="152.90" y="297.07" font-size="5.2" font-weight="bold" text-anchor="end" textLength="5.72" lengthAdjust="spacingAndGlyphs" fill="#1a1a1a" stroke="#1a1a1a" stroke-width="0.15">70</text>
<line x1="153.40" y1="304.10" x2="155.30" y2="304.10" stroke="#2a2a2a" stroke-width="0.7"/>
<text x="152.90" y="305.97" font-size="5.2" font-weight="bold" text-anchor="end" textLength="5.72" lengthAdjust="spacingAndGlyphs" fill="#1a1a1a" stroke="#1a1a1a" stroke-width="0.15">60</text>
<line x1="153.40" y1="313.00" x2="155.30" y2="313.00" stroke="#2a2a2a" stroke-width="0.7"/>
<text x="152.90" y="314.87" font-size="5.2" font-weight="bold" text-anchor="end" textLength="5.72" lengthAdjust="spacingAndGlyphs" fill="#1a1a1a" stroke="#1a1a1a" stroke-width="0.15">50</text>
<line x1="153.40" y1="321.90" x2="155.30" y2="321.90" stroke="#2a2a2a" stroke-width="0.7"/>
<text x="152.90" y="323.77" font-size="5.2" font-weight="bold" text-anchor="end" textLength="5.72" lengthAdjust="spacingAndGlyphs" fill="#1a1a1a" stroke="#1a1a1a" stroke-width="0.15">40</text>
<line x1="153.40" y1="330.80" x2="155.30" y2="330.80" stroke="#2a2a2a" stroke-width="0.7"/>
<text x="152.90" y="332.67" font-size="5.2" font-weight="bold" text-anchor="end" textLength="5.72" lengthAdjust="spacingAndGlyphs" fill="#1a1a1a" stroke="#1a1a1a" stroke-width="0.15">30</text>
<line x1="153.40" y1="339.70" x2="155.30" y2="339.70" stroke="#2a2a2a" stroke-width="0.7"/>
<text x="152.90" y="341.57" font-size="5.2" font-weight="bold" text-anchor="end" textLength="5.72" lengthAdjust="spacingAndGlyphs" fill="#1a1a1a" stroke="#1a1a1a" stroke-width="0.15">20</text>
<line x1="153.40" y1="348.60" x2="155.30" y2="348.60" stroke="#2a2a2a" stroke-width="0.7"/>
<text x="152.90" y="350.47" font-size="5.2" font-weight="bold" text-anchor="end" textLength="5.72" lengthAdjust="spacingAndGlyphs" fill="#1a1a1a" stroke="#1a1a1a" stroke-width="0.15">10</text>
<line x1="153.40" y1="357.60" x2="155.30" y2="357.60" stroke="#2a2a2a" stroke-width="0.7"/>
<text x="152.90" y="359.47" font-size="5.2" font-weight="bold" text-anchor="end" textLength="2.86" lengthAdjust="spacingAndGlyphs" fill="#1a1a1a" stroke="#1a1a1a" stroke-width="0.15">0</text>
<rect x="162.50" y="312.30" width="31.80" height="45.30" fill="#353535"/>
<line x1="178.40" y1="357.60" x2="178.40" y2="359.60" stroke="#2a2a2a" stroke-width="0.7"/>
<line x1="178.40" y1="303.20" x2="178.40" y2="312.50" stroke="#3a3a3a" stroke-width="0.8"/>
<line x1="170.75" y1="303.20" x2="186.05" y2="303.20" stroke="#3a3a3a" stroke-width="0.8"/>
<rect x="208.80" y="355.70" width="32.00" height="1.90" fill="#a9a9a9"/>
<line x1="224.80" y1="357.60" x2="224.80" y2="359.60" stroke="#2a2a2a" stroke-width="0.7"/>
<line x1="224.80" y1="355.20" x2="224.80" y2="355.90" stroke="#8a8a8a" stroke-width="0.8"/>
<line x1="217.30" y1="355.20" x2="232.30" y2="355.20" stroke="#8a8a8a" stroke-width="0.8"/>
<text x="178.60" y="365.80" font-size="4.8" font-weight="bold" text-anchor="middle" textLength="13.50" lengthAdjust="spacingAndGlyphs" fill="#1a1a1a" stroke="#1a1a1a" stroke-width="0.1">DMSO</text>
<text x="224.70" y="365.80" font-size="4.8" font-weight="bold" text-anchor="middle" textLength="18.20" lengthAdjust="spacingAndGlyphs" fill="#1a1a1a" stroke="#1a1a1a" stroke-width="0.1">PTC-209</text>
<text x="199.80" y="292.20" font-size="5.6" font-weight="bold" text-anchor="middle" textLength="32.00" lengthAdjust="spacingAndGlyphs" fill="#1a1a1a" stroke="#1a1a1a" stroke-width="0.12">MDA-PCA2b</text>
<text x="135.20" y="325.20" font-size="5" text-anchor="middle" fill="#222" transform="rotate(-90 135.20 325.20)" textLength="37.50" lengthAdjust="spacingAndGlyphs" font-weight="bold"><tspan font-style="italic">BMI1</tspan> Promoter</text>
<text x="140.40" y="325.20" font-size="5" text-anchor="middle" fill="#222" transform="rotate(-90 140.40 325.20)" textLength="33.00" lengthAdjust="spacingAndGlyphs" font-weight="bold">activity (RLU)</text>
<text x="224.70" y="348.40" font-size="3.9" text-anchor="middle" textLength="14.50" lengthAdjust="spacingAndGlyphs" fill="#383838" stroke="#383838" stroke-width="0.08">*P&lt;0.05</text>
<line x1="292.60" y1="298.00" x2="292.60" y2="358.50" stroke="#2a2a2a" stroke-width="0.85"/>
<line x1="292.20" y1="358.10" x2="384.00" y2="358.10" stroke="#2a2a2a" stroke-width="0.85"/>
<line x1="290.70" y1="300.50" x2="292.60" y2="300.50" stroke="#2a2a2a" stroke-width="0.7"/>
<text x="290.20" y="302.19" font-size="4.7" font-weight="bold" text-anchor="end" textLength="8.11" lengthAdjust="spacingAndGlyphs" fill="#1a1a1a" stroke="#1a1a1a" stroke-width="0.15">125</text>
<line x1="290.70" y1="312.00" x2="292.60" y2="312.00" stroke="#2a2a2a" stroke-width="0.7"/>
<text x="290.20" y="313.69" font-size="4.7" font-weight="bold" text-anchor="end" textLength="8.11" lengthAdjust="spacingAndGlyphs" fill="#1a1a1a" stroke="#1a1a1a" stroke-width="0.15">100</text>
<line x1="290.70" y1="323.50" x2="292.60" y2="323.50" stroke="#2a2a2a" stroke-width="0.7"/>
<text x="290.20" y="325.19" font-size="4.7" font-weight="bold" text-anchor="end" textLength="5.40" lengthAdjust="spacingAndGlyphs" fill="#1a1a1a" stroke="#1a1a1a" stroke-width="0.15">75</text>
<line x1="290.70" y1="335.10" x2="292.60" y2="335.10" stroke="#2a2a2a" stroke-width="0.7"/>
<text x="290.20" y="336.79" font-size="4.7" font-weight="bold" text-anchor="end" textLength="5.40" lengthAdjust="spacingAndGlyphs" fill="#1a1a1a" stroke="#1a1a1a" stroke-width="0.15">50</text>
<line x1="290.70" y1="346.60" x2="292.60" y2="346.60" stroke="#2a2a2a" stroke-width="0.7"/>
<text x="290.20" y="348.29" font-size="4.7" font-weight="bold" text-anchor="end" textLength="5.40" lengthAdjust="spacingAndGlyphs" fill="#1a1a1a" stroke="#1a1a1a" stroke-width="0.15">25</text>
<line x1="290.70" y1="358.10" x2="292.60" y2="358.10" stroke="#2a2a2a" stroke-width="0.7"/>
<text x="290.20" y="359.79" font-size="4.7" font-weight="bold" text-anchor="end" textLength="2.70" lengthAdjust="spacingAndGlyphs" fill="#1a1a1a" stroke="#1a1a1a" stroke-width="0.15">0</text>
<rect x="300.20" y="311.50" width="30.80" height="46.60" fill="#353535"/>
<line x1="315.60" y1="358.10" x2="315.60" y2="360.10" stroke="#2a2a2a" stroke-width="0.7"/>
<line x1="315.60" y1="299.50" x2="315.60" y2="311.70" stroke="#3a3a3a" stroke-width="0.8"/>
<line x1="308.05" y1="299.50" x2="323.15" y2="299.50" stroke="#3a3a3a" stroke-width="0.8"/>
<rect x="345.50" y="323.30" width="31.40" height="34.80" fill="#a9a9a9"/>
<line x1="361.20" y1="358.10" x2="361.20" y2="360.10" stroke="#2a2a2a" stroke-width="0.7"/>
<line x1="361.20" y1="312.60" x2="361.20" y2="323.50" stroke="#8a8a8a" stroke-width="0.8"/>
<line x1="353.60" y1="312.60" x2="368.80" y2="312.60" stroke="#8a8a8a" stroke-width="0.8"/>
<text x="315.50" y="365.50" font-size="4.8" font-weight="bold" text-anchor="middle" textLength="15.80" lengthAdjust="spacingAndGlyphs" fill="#1a1a1a" stroke="#1a1a1a" stroke-width="0.1">Control</text>
<text x="361.70" y="365.50" font-size="4.8" font-weight="bold" text-anchor="middle" textLength="18.10" lengthAdjust="spacingAndGlyphs" fill="#1a1a1a" stroke="#1a1a1a" stroke-width="0.1">PTC-209</text>
<text x="337.30" y="291.90" font-size="5.6" font-weight="bold" text-anchor="middle" textLength="41.50" lengthAdjust="spacingAndGlyphs" fill="#1a1a1a" stroke="#1a1a1a" stroke-width="0.12">WP-NB26 Cells</text>
<text x="271.40" y="327.00" font-size="4.7" text-anchor="middle" fill="#222" transform="rotate(-90 271.40 327.00)" textLength="35.40" lengthAdjust="spacingAndGlyphs" font-weight="bold"><tspan font-style="italic">BMI1</tspan> Promoter</text>
<text x="277.60" y="327.00" font-size="4.7" text-anchor="middle" fill="#222" transform="rotate(-90 277.60 327.00)" textLength="32.00" lengthAdjust="spacingAndGlyphs" font-weight="bold">activity (RLU)</text>
<line x1="422.30" y1="293.50" x2="422.30" y2="360.50" stroke="#2a2a2a" stroke-width="0.85"/>
<line x1="421.90" y1="360.10" x2="520.00" y2="360.10" stroke="#2a2a2a" stroke-width="0.85"/>
<line x1="420.40" y1="295.60" x2="422.30" y2="295.60" stroke="#2a2a2a" stroke-width="0.7"/>
<text x="419.90" y="297.29" font-size="4.7" font-weight="bold" text-anchor="end" textLength="7.97" lengthAdjust="spacingAndGlyphs" fill="#1a1a1a" stroke="#1a1a1a" stroke-width="0.15">250</text>
<line x1="420.40" y1="308.50" x2="422.30" y2="308.50" stroke="#2a2a2a" stroke-width="0.7"/>
<text x="419.90" y="310.19" font-size="4.7" font-weight="bold" text-anchor="end" textLength="7.97" lengthAdjust="spacingAndGlyphs" fill="#1a1a1a" stroke="#1a1a1a" stroke-width="0.15">200</text>
<line x1="420.40" y1="321.50" x2="422.30" y2="321.50" stroke="#2a2a2a" stroke-width="0.7"/>
<text x="419.90" y="323.19" font-size="4.7" font-weight="bold" text-anchor="end" textLength="7.97" lengthAdjust="spacingAndGlyphs" fill="#1a1a1a" stroke="#1a1a1a" stroke-width="0.15">150</text>
<line x1="420.40" y1="334.40" x2="422.30" y2="334.40" stroke="#2a2a2a" stroke-width="0.7"/>
<text x="419.90" y="336.09" font-size="4.7" font-weight="bold" text-anchor="end" textLength="7.97" lengthAdjust="spacingAndGlyphs" fill="#1a1a1a" stroke="#1a1a1a" stroke-width="0.15">100</text>
<line x1="420.40" y1="347.40" x2="422.30" y2="347.40" stroke="#2a2a2a" stroke-width="0.7"/>
<text x="419.90" y="349.09" font-size="4.7" font-weight="bold" text-anchor="end" textLength="5.31" lengthAdjust="spacingAndGlyphs" fill="#1a1a1a" stroke="#1a1a1a" stroke-width="0.15">50</text>
<line x1="420.40" y1="360.20" x2="422.30" y2="360.20" stroke="#2a2a2a" stroke-width="0.7"/>
<text x="419.90" y="361.89" font-size="4.7" font-weight="bold" text-anchor="end" textLength="2.66" lengthAdjust="spacingAndGlyphs" fill="#1a1a1a" stroke="#1a1a1a" stroke-width="0.15">0</text>
<rect x="430.30" y="301.20" width="32.30" height="58.90" fill="#353535"/>
<line x1="446.45" y1="360.10" x2="446.45" y2="362.10" stroke="#2a2a2a" stroke-width="0.7"/>
<line x1="446.45" y1="295.80" x2="446.45" y2="301.40" stroke="#3a3a3a" stroke-width="0.8"/>
<line x1="439.15" y1="295.80" x2="453.75" y2="295.80" stroke="#3a3a3a" stroke-width="0.8"/>
<rect x="478.60" y="342.20" width="32.90" height="17.90" fill="#a9a9a9"/>
<line x1="495.05" y1="360.10" x2="495.05" y2="362.10" stroke="#2a2a2a" stroke-width="0.7"/>
<line x1="495.05" y1="337.40" x2="495.05" y2="342.40" stroke="#8a8a8a" stroke-width="0.8"/>
<line x1="487.05" y1="337.40" x2="503.05" y2="337.40" stroke="#8a8a8a" stroke-width="0.8"/>
<text x="445.60" y="367.40" font-size="4.8" font-weight="bold" text-anchor="middle" textLength="16.20" lengthAdjust="spacingAndGlyphs" fill="#1a1a1a" stroke="#1a1a1a" stroke-width="0.1">Control</text>
<text x="494.60" y="367.40" font-size="4.8" font-weight="bold" text-anchor="middle" textLength="18.10" lengthAdjust="spacingAndGlyphs" fill="#1a1a1a" stroke="#1a1a1a" stroke-width="0.1">PTC-209</text>
<text x="467.60" y="292.70" font-size="5.6" font-weight="bold" text-anchor="middle" textLength="23.20" lengthAdjust="spacingAndGlyphs" fill="#1a1a1a" stroke="#1a1a1a" stroke-width="0.12">PC3 Cell</text>
<text x="400.20" y="326.70" font-size="4.7" text-anchor="middle" fill="#222" transform="rotate(-90 400.20 326.70)" textLength="34.60" lengthAdjust="spacingAndGlyphs" font-weight="bold"><tspan font-style="italic">BMI1</tspan> Promoter</text>
<text x="405.90" y="326.70" font-size="4.7" text-anchor="middle" fill="#222" transform="rotate(-90 405.90 326.70)" textLength="32.60" lengthAdjust="spacingAndGlyphs" font-weight="bold">activity (RLU)</text>
<text x="495.20" y="327.90" font-size="3.9" text-anchor="middle" textLength="16.00" lengthAdjust="spacingAndGlyphs" fill="#383838" stroke="#383838" stroke-width="0.08">*P&lt;0.05</text>
<linearGradient id="bg1" x1="0" y1="0" x2="0" y2="1"><stop offset="0" stop-color="#f2f2f2"/><stop offset="0.5" stop-color="#e0e0e0"/><stop offset="1" stop-color="#e6e6e6"/></linearGradient>
<rect x="187.20" y="85.60" width="68.50" height="18.20" fill="url(#bg1)"/>
<rect x="191.70" y="91.00" width="30.50" height="6.40" rx="4.58" ry="3.20" fill="#262626" filter="url(#b1)"/>
<rect x="228.80" y="92.00" width="23.00" height="3.80" rx="3.45" ry="1.90" fill="#2e2e2e" filter="url(#b1)"/>
<linearGradient id="bg2" x1="0" y1="0" x2="0" y2="1"><stop offset="0" stop-color="#eeeeee"/><stop offset="0.5" stop-color="#d4d4d4"/><stop offset="1" stop-color="#dcdcdc"/></linearGradient>
<rect x="187.20" y="105.20" width="68.50" height="16.40" fill="url(#bg2)"/>
<rect x="188.40" y="113.50" width="29.80" height="4.60" rx="4.47" ry="2.30" fill="#262626" filter="url(#b1)"/>
<rect x="221.60" y="112.10" width="33.60" height="5.40" rx="5.04" ry="2.70" fill="#262626" filter="url(#b1)"/>
<text x="163.30" y="98.80" font-size="9.2" font-weight="bold" textLength="20.40" lengthAdjust="spacingAndGlyphs" stroke="#111" stroke-width="0.15">BMI1</text>
<text x="157.60" y="116.00" font-size="8.2" font-weight="bold" fill="#111" textLength="27.40" lengthAdjust="spacingAndGlyphs" stroke="#111" stroke-width="0.15"><tspan font-weight="normal" font-family="'Liberation Serif', serif" font-size="8.8" stroke="none">β</tspan>-Actin</text>
<text x="194.90" y="129.60" font-size="7.2" font-weight="bold" textLength="26.20" lengthAdjust="spacingAndGlyphs" fill="#222" stroke="#111" stroke-width="0.15">Control</text>
<text x="229.90" y="129.60" font-size="7.2" font-weight="bold" textLength="14.70" lengthAdjust="spacingAndGlyphs" fill="#222" stroke="#111" stroke-width="0.15">PTC</text>
<linearGradient id="bg3" x1="0" y1="0" x2="0" y2="1"><stop offset="0" stop-color="#f0f0f0"/><stop offset="0.5" stop-color="#e2e2e2"/><stop offset="1" stop-color="#e4e4e4"/></linearGradient>
<rect x="316.00" y="85.30" width="68.70" height="18.20" fill="url(#bg3)"/>
<rect x="319.30" y="89.70" width="28.90" height="7.20" rx="4.33" ry="3.60" fill="#262626" filter="url(#b1)"/>
<rect x="355.40" y="92.40" width="26.60" height="4.20" rx="3.99" ry="2.10" fill="#5a5a5a" filter="url(#b1)"/>
<linearGradient id="bg4" x1="0" y1="0" x2="0" y2="1"><stop offset="0" stop-color="#e8e8e8"/><stop offset="0.5" stop-color="#d8d8d8"/><stop offset="1" stop-color="#dcdcdc"/></linearGradient>
<rect x="316.00" y="105.70" width="68.70" height="13.70" fill="url(#bg4)"/>
<rect x="320.00" y="111.60" width="29.50" height="4.40" rx="4.42" ry="2.20" fill="#262626" filter="url(#b1)"/>
<rect x="351.80" y="111.20" width="31.00" height="4.80" rx="4.65" ry="2.40" fill="#262626" filter="url(#b1)"/>
<text x="288.70" y="97.90" font-size="9.2" font-weight="bold" textLength="20.90" lengthAdjust="spacingAndGlyphs" stroke="#111" stroke-width="0.15">BMI1</text>
<text x="283.60" y="115.60" font-size="8.2" font-weight="bold" fill="#111" textLength="27.70" lengthAdjust="spacingAndGlyphs" stroke="#111" stroke-width="0.15"><tspan font-weight="normal" font-family="'Liberation Serif', serif" font-size="8.8" stroke="none">β</tspan>-Actin</text>
<text x="325.30" y="128.70" font-size="7.2" font-weight="bold" textLength="25.80" lengthAdjust="spacingAndGlyphs" fill="#222" stroke="#111" stroke-width="0.15">Control</text>
<text x="360.60" y="128.70" font-size="7.2" font-weight="bold" textLength="14.20" lengthAdjust="spacingAndGlyphs" fill="#222" stroke="#111" stroke-width="0.15">PTC</text>
<linearGradient id="bg5" x1="0" y1="0" x2="0" y2="1"><stop offset="0" stop-color="#f6f6f6"/><stop offset="0.5" stop-color="#f1f1f1"/><stop offset="1" stop-color="#f4f4f4"/></linearGradient>
<rect x="442.70" y="86.00" width="68.30" height="27.50" fill="url(#bg5)"/>
<rect x="444.80" y="88.60" width="31.80" height="5.60" rx="4.77" ry="2.80" fill="#2a2a2a" filter="url(#b2)"/>
<rect x="480.60" y="90.00" width="29.20" height="4.40" rx="4.38" ry="2.20" fill="#666" filter="url(#b2)"/>
<rect x="442.70" y="104.80" width="32.50" height="6.40" rx="4.88" ry="3.20" fill="#1e1e1e" filter="url(#b1)"/>
<rect x="480.60" y="105.20" width="27.70" height="5.60" rx="4.15" ry="2.80" fill="#222" filter="url(#b1)"/>
<text x="414.30" y="97.30" font-size="9.2" font-weight="bold" textLength="21.50" lengthAdjust="spacingAndGlyphs" stroke="#111" stroke-width="0.15">BMI1</text>
<text x="410.40" y="110.70" font-size="8.2" font-weight="bold" fill="#111" textLength="27.60" lengthAdjust="spacingAndGlyphs" stroke="#111" stroke-width="0.15"><tspan font-weight="normal" font-family="'Liberation Serif', serif" font-size="8.8" stroke="none">β</tspan>-Actin</text>
<text x="451.20" y="123.00" font-size="7.2" font-weight="bold" textLength="26.10" lengthAdjust="spacingAndGlyphs" fill="#222" stroke="#111" stroke-width="0.15">Control</text>
<text x="486.50" y="123.00" font-size="7.2" font-weight="bold" textLength="14.30" lengthAdjust="spacingAndGlyphs" fill="#222" stroke="#111" stroke-width="0.15">PTC</text>
<linearGradient id="bg6" x1="0" y1="0" x2="0" y2="1"><stop offset="0" stop-color="#f0f0f0"/><stop offset="0.5" stop-color="#e2e2e2"/><stop offset="1" stop-color="#e8e8e8"/></linearGradient>
<rect x="187.80" y="228.00" width="68.00" height="13.60" fill="url(#bg6)"/>
<rect x="190.30" y="233.40" width="30.00" height="5.80" rx="4.50" ry="2.90" fill="#262626" filter="url(#b1)"/>
<rect x="226.00" y="234.60" width="25.60" height="3.00" rx="3.84" ry="1.50" fill="#2a2a2a" filter="url(#b1)"/>
<linearGradient id="bg7" x1="0" y1="0" x2="0" y2="1"><stop offset="0" stop-color="#dedede"/><stop offset="0.5" stop-color="#d0d0d0"/><stop offset="1" stop-color="#d8d8d8"/></linearGradient>
<rect x="187.80" y="243.30" width="68.00" height="14.90" fill="url(#bg7)"/>
<rect x="187.90" y="249.00" width="31.70" height="4.40" rx="4.75" ry="2.20" fill="#262626" filter="url(#b1)"/>
<rect x="220.90" y="248.90" width="31.30" height="4.60" rx="4.69" ry="2.30" fill="#262626" filter="url(#b1)"/>
<text x="162.90" y="239.00" font-size="9.2" font-weight="bold" textLength="20.50" lengthAdjust="spacingAndGlyphs" stroke="#111" stroke-width="0.15">BMI1</text>
<text x="156.50" y="254.40" font-size="8.2" font-weight="bold" fill="#111" textLength="27.50" lengthAdjust="spacingAndGlyphs" stroke="#111" stroke-width="0.15"><tspan font-weight="normal" font-family="'Liberation Serif', serif" font-size="8.8" stroke="none">β</tspan>-Actin</text>
<text x="195.50" y="266.20" font-size="7.2" font-weight="bold" textLength="26.00" lengthAdjust="spacingAndGlyphs" fill="#222" stroke="#111" stroke-width="0.15">Control</text>
<text x="231.00" y="266.20" font-size="7.2" font-weight="bold" textLength="14.20" lengthAdjust="spacingAndGlyphs" fill="#222" stroke="#111" stroke-width="0.15">PTC</text>
<linearGradient id="bg8" x1="0" y1="0" x2="0" y2="1"><stop offset="0" stop-color="#f2f2f2"/><stop offset="0.5" stop-color="#e8e8e8"/><stop offset="1" stop-color="#ececec"/></linearGradient>
<rect x="325.00" y="227.20" width="68.40" height="14.70" fill="url(#bg8)"/>
<rect x="328.00" y="232.20" width="29.30" height="5.40" rx="4.40" ry="2.70" fill="#222" filter="url(#b1)"/>
<rect x="363.30" y="234.00" width="28.50" height="2.60" rx="4.27" ry="1.30" fill="#303030" filter="url(#b1)"/>
<linearGradient id="bg9" x1="0" y1="0" x2="0" y2="1"><stop offset="0" stop-color="#dcdcdc"/><stop offset="0.5" stop-color="#d0d0d0"/><stop offset="1" stop-color="#d6d6d6"/></linearGradient>
<rect x="324.80" y="244.10" width="68.60" height="14.30" fill="url(#bg9)"/>
<rect x="325.70" y="250.30" width="32.10" height="4.40" rx="4.82" ry="2.20" fill="#262626" filter="url(#b1)"/>
<rect x="360.40" y="250.30" width="32.80" height="4.40" rx="4.92" ry="2.20" fill="#262626" filter="url(#b1)"/>
<text x="298.50" y="238.20" font-size="9.2" font-weight="bold" textLength="20.80" lengthAdjust="spacingAndGlyphs" stroke="#111" stroke-width="0.15">BMI1</text>
<text x="292.90" y="254.50" font-size="8.2" font-weight="bold" fill="#111" textLength="27.40" lengthAdjust="spacingAndGlyphs" stroke="#111" stroke-width="0.15"><tspan font-weight="normal" font-family="'Liberation Serif', serif" font-size="8.8" stroke="none">β</tspan>-Actin</text>
<text x="334.20" y="267.50" font-size="7.2" font-weight="bold" textLength="26.30" lengthAdjust="spacingAndGlyphs" fill="#222" stroke="#111" stroke-width="0.15">Control</text>
<text x="370.00" y="267.50" font-size="7.2" font-weight="bold" textLength="14.40" lengthAdjust="spacingAndGlyphs" fill="#222" stroke="#111" stroke-width="0.15">PTC</text>
</g></svg></body></html>
